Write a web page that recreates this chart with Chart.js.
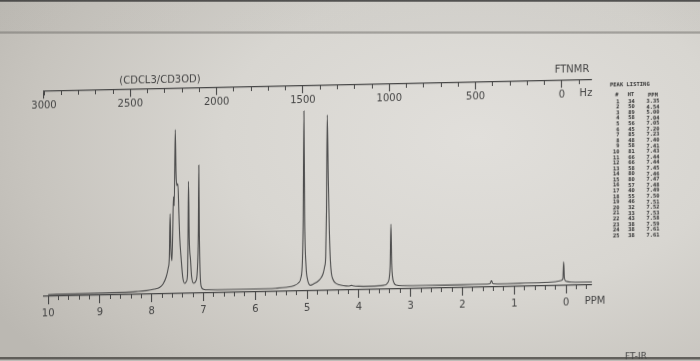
<!DOCTYPE html>
<html><head><meta charset="utf-8">
<script src="https://cdn.jsdelivr.net/npm/chart.js@4.4.1/dist/chart.umd.min.js"></script>
<style>
html,body{margin:0;padding:0;}
body{width:700px;height:361px;overflow:hidden;position:relative;
background:
 linear-gradient(to bottom, rgba(50,50,50,0.9) 0px, rgba(50,50,50,0.6) 1.5px, transparent 2.5px),
 linear-gradient(to bottom, transparent 31px, rgba(110,108,104,0.6) 32px, rgba(110,108,104,0.35) 33.5px, transparent 34.5px),
 linear-gradient(to bottom, rgba(150,148,142,0.1) 0px, rgba(150,148,142,0.1) 32px, transparent 32px),
 linear-gradient(to bottom, transparent 356.5px, rgba(80,78,74,0.85) 357.5px, rgba(80,78,74,0.85) 359px, rgba(190,188,183,1) 360px),
 radial-gradient(ellipse 80% 95% at 68% 38%, #e1dfdb 0%, #d8d6d1 45%, #c7c4be 80%, #bbb8b2 100%);
}
#wrap{position:absolute;left:0;top:0;width:700px;height:375px;transform:skewY(-1.2deg);transform-origin:350px 0;filter:blur(0.3px);}
canvas{display:block;}
</style></head><body>
<div id="wrap"><canvas id="c" width="700" height="375" style="width:700px;height:375px"></canvas></div>
<script>
// Spectrum trace (chemical shift in ppm, intensity in arbitrary units)
const ppm = [10.0,9.5,9.0,8.6,8.3,8.1,7.95,7.85,7.78,7.72,7.68,7.66,7.645,7.63,7.61,7.595,7.58,7.565,7.545,7.53,7.515,7.495,7.475,7.46,7.43,7.40,7.36,7.33,7.31,7.30,7.29,7.275,7.25,7.23,7.19,7.15,7.12,7.10,7.09,7.08,7.065,7.04,7.00,6.9,6.5,6.0,5.6,5.4,5.25,5.17,5.12,5.09,5.075,5.06,5.045,5.02,4.99,4.96,4.93,4.87,4.80,4.74,4.69,4.66,4.64,4.625,4.61,4.59,4.57,4.55,4.53,4.50,4.46,4.38,4.30,4.20,4.14,4.12,4.00,3.80,3.60,3.50,3.45,3.41,3.395,3.38,3.365,3.35,3.32,3.28,3.15,2.8,2.4,2.0,1.6,1.47,1.44,1.41,1.2,0.8,0.4,0.2,0.1,0.06,0.045,0.03,0.0,-0.1,-0.3,-0.5];
const intensity = [1.8,1.9,2.1,2.4,2.9,3.6,5.0,6.5,10,17,26,36,80,45,33,60,97,88,164,120,108,110,80,57,34,16,10,12,18,50,112,55,33,17,10,12,22,60,128,60,20,6,3.8,3.2,3.0,3.0,3.3,4.0,5.5,8,13,30,70,180,70,25,11,6.5,5.6,7,9,12,17,24,34,80,175.5,110,60,30,17,11,7.6,5.5,4.5,4.0,4.6,4.3,3.6,3.4,3.6,4.2,6,12.5,25,65,25,12.4,6,4.0,3.2,3.0,2.9,2.9,3.0,3.2,6.5,3.2,3.0,3.2,3.5,4.0,5,7,23.8,7,4.2,3.2,3.0,3.0];

// Axis ticks
const ppmTickValues = [10,9,8,7,6,5,4,3,2,1,0];
const ppmTickLabels = ['10','9','8','7','6','5','4','3','2','1','0'];
const hzTickValues = [3000,2500,2000,1500,1000,500,0];
const hzTickLabels = ['3000','2500','2000','1500','1000','500','0'];

// Peak listing table
const peakNumber = [1,2,3,4,5,6,7,8,9,10,11,12,13,14,15,16,17,18,19,20,21,22,23,24,25];
const peakHeight = ['34','50','89','58','56','45','85','48','58','81','66','66','58','80','80','57','40','55','46','32','33','43','38','38','38'];
const peakPpm = ['3.35','4.54','5.00','7.04','7.05','7.20','7.23','7.40','7.41','7.43','7.44','7.44','7.45','7.46','7.47','7.48','7.49','7.50','7.51','7.52','7.53','7.58','7.59','7.61','7.61'];

const YMAX = 205.5;
const INK = '#474747';
const TXT = '#444444';

const textPlugin = {
  id: 'nmrText',
  afterDraw(chart) {
    const ctx = chart.ctx;
    ctx.save();
    ctx.fillStyle = TXT;
    ctx.textBaseline = 'middle';
    ctx.textAlign = 'center';
    ctx.font = '10px "DejaVu Sans"';
    ctx.fillText('(CDCL3/CD3OD)', 160, 76);
    ctx.fillText('FTNMR', 572, 74.5);
    ctx.fillText('Hz', 586, 98.5);
    ctx.fillText('PPM', 595, 306.5);
    ctx.font = '9px "DejaVu Sans"';
    ctx.fillText('FT-IR', 636, 363);
    // peak listing
    ctx.fillStyle = '#333333';
    ctx.font = 'bold 5.5px "DejaVu Sans Mono"';
    ctx.textAlign = 'left';
    ctx.fillText('PEAK LISTING', 610, 91);
    ctx.textAlign = 'center';
    ctx.fillText('#', 617, 101);
    ctx.fillText('HT', 631, 101);
    ctx.fillText('PPM', 653, 101.3);
    for (let i = 0; i < peakNumber.length; i++) {
      const y = 107.2 + 5.59 * i;
      ctx.textAlign = 'right';
      ctx.fillText(String(peakNumber[i]), 619.5, y);
      ctx.textAlign = 'center';
      ctx.fillText(peakHeight[i], 631.5, y + 0.1);
      ctx.fillText(peakPpm[i], 653, y + 0.3);
    }
    ctx.restore();
  }
};

const tickFont = {family: '"DejaVu Sans"', size: 10};

new Chart(document.getElementById('c'), {
  type: 'scatter',
  data: {
    datasets: [{
      data: ppm.map((p, i) => ({x: p, y: intensity[i]})),
      showLine: true,
      borderColor: '#4d4d4d',
      borderWidth: 1.1,
      pointRadius: 0,
      cubicInterpolationMode: 'monotone',
      xAxisID: 'x',
      yAxisID: 'y'
    }]
  },
  options: {
    responsive: false,
    animation: false,
    devicePixelRatio: 1,
    events: [],
    layout: {padding: {top: 84.5, left: 44, right: 108, bottom: 55}},
    plugins: {legend: {display: false}, tooltip: {enabled: false}},
    scales: {
      y: {display: false, min: 0, max: YMAX},
      x: {
        type: 'linear', position: 'bottom', reverse: true, min: -0.5, max: 10.08,
        afterBuildTicks: s => { s.ticks = ppmTickValues.map(v => ({value: v})); },
        afterFit: s => { s.height = 30; },
        grid: {drawOnChartArea: false, tickLength: 8, color: INK, lineWidth: 1.1},
        border: {color: INK, width: 1.3},
        ticks: {autoSkip: false, maxRotation: 0, minRotation: 0, padding: 3, color: TXT, font: tickFont,
          callback: (v, i) => ppmTickLabels[i]}
      },
      xm: {
        type: 'linear', position: {y: 0}, reverse: true, min: -0.5, max: 10.08,
        grid: {drawOnChartArea: false, tickLength: 4, color: INK, lineWidth: 1},
        border: {display: false},
        ticks: {display: false, stepSize: 0.2, includeBounds: false, autoSkip: false}
      },
      xhz: {
        type: 'linear', position: {y: YMAX}, reverse: true, min: -174, max: 3000,
        afterBuildTicks: s => { s.ticks = hzTickValues.map(v => ({value: v})); },
        grid: {drawOnChartArea: false, tickLength: 7, color: INK, lineWidth: 1.1},
        border: {color: INK, width: 1.3},
        ticks: {autoSkip: false, maxRotation: 0, minRotation: 0, padding: 2, color: TXT, font: tickFont,
          callback: (v, i) => hzTickLabels[i]}
      },
      xhzm: {
        type: 'linear', position: {y: YMAX}, reverse: true, min: -174, max: 3000,
        grid: {drawOnChartArea: false, tickLength: 4, color: INK, lineWidth: 1},
        border: {display: false},
        ticks: {display: false, stepSize: 100, includeBounds: false, autoSkip: false}
      }
    }
  },
  plugins: [textPlugin]
});
</script>
</body></html>
